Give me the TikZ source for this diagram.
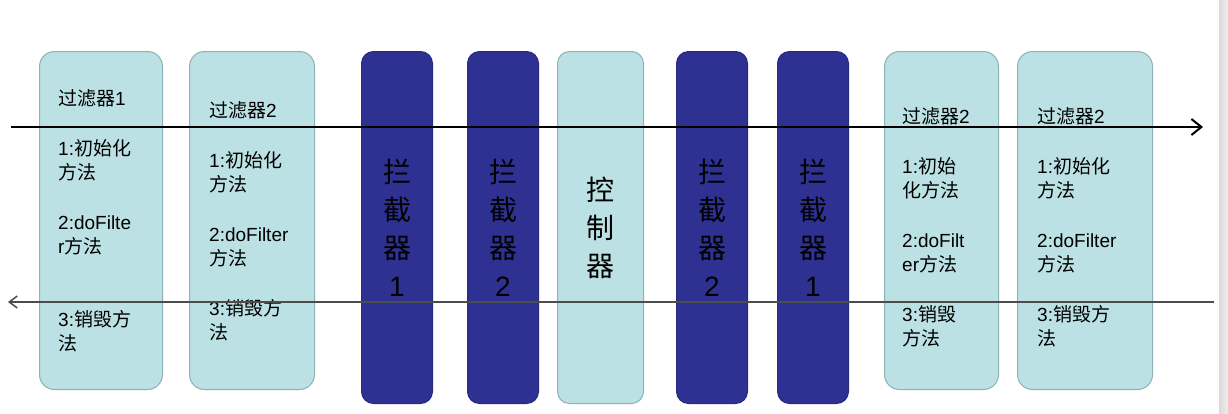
\documentclass[tikz,border=0pt]{standalone}
\usepackage{fontspec}
\setmainfont{Liberation Sans}
\newfontfamily\cjk{Noto Sans CJK SC}
\usetikzlibrary{arrows.meta}
\definecolor{filterfill}{HTML}{BCE1E4}
\definecolor{filterline}{HTML}{8DB1B5}
\definecolor{interfill}{HTML}{2E3192}
\definecolor{interline}{HTML}{272A7E}
\newcommand\zh[1]{{\cjk #1}}

\begin{document}
\begin{tikzpicture}[x=1pt,y=-1pt,
    filterbox/.style={draw=filterline,fill=filterfill,line width=1pt,
      rounded corners=15pt,anchor=north west,inner sep=0pt,minimum height=338pt},
    interbox/.style={draw=interline,fill=interfill,line width=1pt,
      rounded corners=12pt,anchor=north west,inner sep=0pt,minimum height=352pt,
      minimum width=71pt,align=center,font=\fontsize{28}{38}\selectfont},
    ctrlbox/.style={interbox,draw=filterline,fill=filterfill,minimum width=86pt},
    filtertext/.style={anchor=base west,inner sep=0pt,align=left,
      font=\fontsize{19}{24}\selectfont}]
\useasboundingbox (0,0) rectangle (1228,413);
\fill[left color=gray!28,right color=gray!14] (1219,0) rectangle (1228,413);

% filters (in)
\node[filterbox,minimum width=123pt] (filterA) at (39,51) {};
\node[filterbox,minimum width=125pt] (filterB) at (189,51) {};
% base = last line
\node[filtertext] (textA) at ([shift={(19,299)}]filterA.north west)
  {\zh{过滤器}1\\[26pt]1:\zh{初始化}\\\zh{方法}\\[26pt]2:doFilte\\r\zh{方法}\\[49pt]3:\zh{销毁方}\\\zh{法}};
\node[filtertext] (textB) at ([shift={(20,288)}]filterB.north west)
  {\zh{过滤器}2\\[26pt]1:\zh{初始化}\\\zh{方法}\\[26pt]2:doFilter\\\zh{方法}\\[26pt]3:\zh{销毁方}\\\zh{法}};

% interceptors and controller
\node[interbox] (interA) at (361,51) {\zh{拦}\\\zh{截}\\\zh{器}\\1};
\node[interbox] (interB) at (467,51) {\zh{拦}\\\zh{截}\\\zh{器}\\2};
\node[ctrlbox] (ctrl) at (557,51) {\zh{控}\\\zh{制}\\\zh{器}};
\node[interbox] (interC) at (676,51) {\zh{拦}\\\zh{截}\\\zh{器}\\2};
\node[interbox] (interD) at (777,51) {\zh{拦}\\\zh{截}\\\zh{器}\\1};

% filters (out)
\node[filterbox,minimum width=114pt] (filterC) at (884,51) {};
\node[filterbox,minimum width=135pt] (filterD) at (1017,51) {};
\node[filtertext] (textC) at ([shift={(18,294)}]filterC.north west)
  {\zh{过滤器}2\\[26pt]1:\zh{初始}\\\zh{化方法}\\[26pt]2:doFilt\\er\zh{方法}\\[26pt]3:\zh{销毁}\\\zh{方法}};
\node[filtertext] (textD) at ([shift={(20,294)}]filterD.north west)
  {\zh{过滤器}2\\[26pt]1:\zh{初始化}\\\zh{方法}\\[26pt]2:doFilter\\\zh{方法}\\[26pt]3:\zh{销毁方}\\\zh{法}};

% request and response
\coordinate (reqStart) at (11,127);
\coordinate (reqEnd) at (1203,127);
\coordinate (respStart) at (1214,302);
\coordinate (respEnd) at (8,302);
\draw[line width=2pt,-{Straight Barb[length=10pt,width=16pt,line width=2pt]}] (reqStart) -- (reqEnd);
\draw[line width=1.5pt,black!70,-{Straight Barb[length=8pt,width=12pt,line width=1.5pt]}] (respStart) -- (respEnd);
\end{tikzpicture}
\end{document}
